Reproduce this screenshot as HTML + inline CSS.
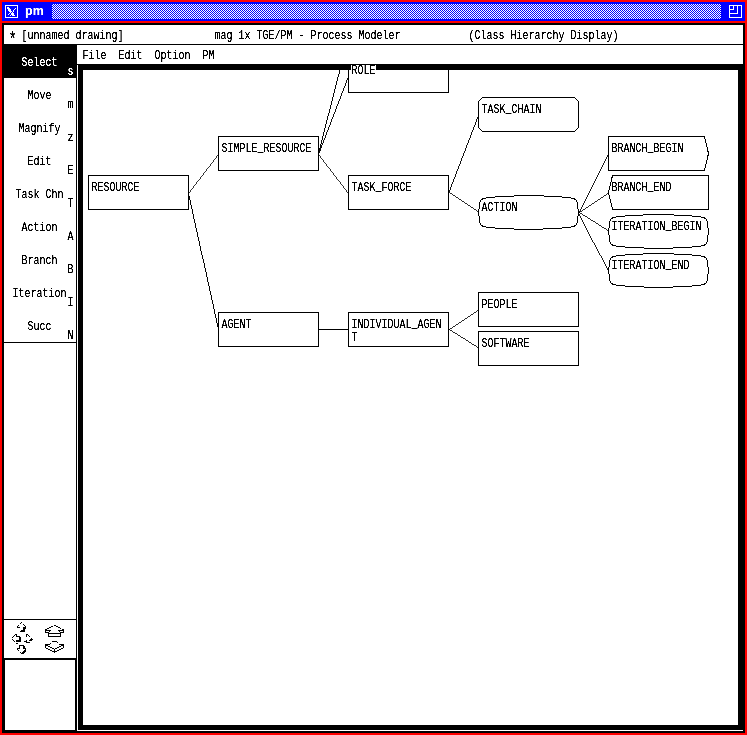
<!DOCTYPE html>
<html lang="en">
<head>
<meta charset="utf-8">
<title>pm</title>
<style>
html,body{margin:0;padding:0}
body{width:747px;height:735px;background:#ff0000;position:relative;overflow:hidden;font-family:"Liberation Mono", monospace}
div,span{position:absolute;box-sizing:border-box}
#tb{left:2px;top:2px;width:743px;height:19px;background:#0000ff}
#stip{left:50px;top:2px;width:669px;height:15px;background:repeating-conic-gradient(#ffffff 0 25%,#0000ff 0 50%) 0 0/2px 2px}
#xb{left:3px;top:3px;width:13px;height:13px;border:1px solid #fff}
#rb{left:727px;top:3px;width:13px;height:13px;border:1px solid #fff}
#rb i{position:absolute;left:-1px;top:-1px;border:1px solid #fff;box-sizing:border-box}
#pm{left:25px;top:4px;font:bold 12.5px/14px "Liberation Sans",sans-serif;color:#fff;white-space:pre}
#win{left:2px;top:23px;width:743px;height:710px;background:#000}
#title{left:2px;top:2px;width:739px;height:19px;background:#fff}
#sel{left:2px;top:21px;width:73px;height:34px;background:#000}
#lp{left:2px;top:55px;width:72px;height:652px;background:#fff}
#menu{left:75px;top:22px;width:666px;height:19px;background:#fff}
#vl{left:75px;top:42px;width:1px;height:666px;background:#fff}
#hl{left:75px;top:707px;width:666px;height:1px;background:#fff}
#cv{left:81px;top:47px;width:655px;height:655px;background:#fff}
.ln{left:2px;width:72px;height:1px;background:#000}
.t{-webkit-text-stroke:0.15px currentColor;font-size:13.6px;line-height:13px;height:13px;white-space:pre;transform-origin:0 0;transform:translateX(0.5px) scaleX(0.7352);color:#000}
.t i{font-style:normal;position:relative;top:-1px}
svg{position:absolute;left:0;top:0}
#txt{left:0;top:0;width:747px;height:735px;filter:url(#tf)}
#ttl{left:0;top:0;width:60px;height:22px;filter:url(#tg)}
</style>
</head>
<body>
<div id="tb">
  <div id="stip"></div>
  <div id="xb"></div>
  <div id="rb"><i style="width:5px;height:5px"></i><i style="width:9px;height:9px"></i></div>
</div>
<div id="win">
  <div id="title"></div>
  <div id="sel"></div>
  <div id="lp"></div>
  <div id="menu"></div>
  <div id="vl"></div>
  <div id="hl"></div>
  <div id="cv"></div>
  <div class="ln" style="top:319px"></div>
  <div class="ln" style="top:596px"></div>
  <div class="ln" style="top:635px;height:2px"></div>
  <div class="ln" style="top:637px;width:1px;height:71px"></div>
  <div class="ln" style="top:637px;left:73px;width:1px;height:71px"></div>
</div>
<svg width="747" height="735" viewBox="0 0 747 735" shape-rendering="crispEdges">
<defs><filter id="tf" x="0" y="0" width="100%" height="100%" color-interpolation-filters="sRGB"><feComponentTransfer><feFuncA type="linear" slope="3" intercept="-0.9"/></feComponentTransfer></filter><filter id="tg" x="0" y="0" width="100%" height="100%" color-interpolation-filters="sRGB"><feComponentTransfer><feFuncA type="linear" slope="1.6" intercept="-0.2"/></feComponentTransfer></filter><clipPath id="cc"><rect x="83" y="70" width="655" height="655"/></clipPath></defs>
<g clip-path="url(#cc)" fill="none" stroke="#000" stroke-width="1">
<rect x="88.5" y="175.5" width="100" height="34"/>
<rect x="218.5" y="136.5" width="100" height="34"/>
<rect x="348.5" y="58.5" width="100" height="34"/>
<rect x="348.5" y="175.5" width="100" height="34"/>
<polygon points="482.5,97.5 574.5,97.5 578.5,101.5 578.5,127.5 574.5,131.5 482.5,131.5 478.5,127.5 478.5,101.5"/>
<path d="M478.50,212.50 C479.00,209.10 479.50,205.50 480.00,202.25 C480.40,200.50 481.00,199.50 482.70,198.80 C488.00,196.50 513.50,196.00 528.50,195.50 C543.50,196.00 569.00,196.50 574.30,198.80 C576.00,199.50 576.60,200.50 577.00,202.25 C577.50,205.50 578.00,209.10 578.50,212.50 C578.00,215.90 577.50,219.50 577.00,222.75 C576.60,224.50 576.00,225.50 574.30,226.20 C569.00,228.50 543.50,229.00 528.50,229.50 C513.50,229.00 488.00,228.50 482.70,226.20 C481.00,225.50 480.40,224.50 480.00,222.75 C479.50,219.50 479.00,215.90 478.50,212.50 Z"/>
<polygon points="608.5,136.5 704.5,136.5 708.5,153.5 704.5,170.5 608.5,170.5"/>
<polygon points="612.5,175.5 708.5,175.5 708.5,209.5 612.5,209.5 608.5,192.5"/>
<path d="M608.50,231.50 C609.00,228.10 609.50,224.50 610.00,221.25 C610.40,219.50 611.00,218.50 612.70,217.80 C618.00,215.50 643.50,215.00 658.50,214.50 C673.50,215.00 699.00,215.50 704.30,217.80 C706.00,218.50 706.60,219.50 707.00,221.25 C707.50,224.50 708.00,228.10 708.50,231.50 C708.00,234.90 707.50,238.50 707.00,241.75 C706.60,243.50 706.00,244.50 704.30,245.20 C699.00,247.50 673.50,248.00 658.50,248.50 C643.50,248.00 618.00,247.50 612.70,245.20 C611.00,244.50 610.40,243.50 610.00,241.75 C609.50,238.50 609.00,234.90 608.50,231.50 Z"/>
<path d="M608.50,270.50 C609.00,267.10 609.50,263.50 610.00,260.25 C610.40,258.50 611.00,257.50 612.70,256.80 C618.00,254.50 643.50,254.00 658.50,253.50 C673.50,254.00 699.00,254.50 704.30,256.80 C706.00,257.50 706.60,258.50 707.00,260.25 C707.50,263.50 708.00,267.10 708.50,270.50 C708.00,273.90 707.50,277.50 707.00,280.75 C706.60,282.50 706.00,283.50 704.30,284.20 C699.00,286.50 673.50,287.00 658.50,287.50 C643.50,287.00 618.00,286.50 612.70,284.20 C611.00,283.50 610.40,282.50 610.00,280.75 C609.50,277.50 609.00,273.90 608.50,270.50 Z"/>
<rect x="218.5" y="312.5" width="100" height="34"/>
<rect x="348.5" y="312.5" width="100" height="34"/>
<rect x="478.5" y="292.5" width="100" height="34"/>
<rect x="478.5" y="331.5" width="100" height="34"/>
<line x1="188.5" y1="192.5" x2="218.5" y2="153.5" stroke-width="0.793"/>
<line x1="188.5" y1="192.5" x2="218.5" y2="329.5" stroke-width="0.977"/>
<line x1="318.5" y1="153.5" x2="348.5" y2="75.5" stroke-width="0.933"/>
<line x1="318.5" y1="153.5" x2="348.5" y2="192.5" stroke-width="0.793"/>
<line x1="448.5" y1="192.5" x2="478.5" y2="114.5" stroke-width="0.933"/>
<line x1="448.5" y1="192.5" x2="478.5" y2="212.5" stroke-width="0.832"/>
<line x1="578.5" y1="212.5" x2="608.5" y2="153.5" stroke-width="0.891"/>
<line x1="578.5" y1="212.5" x2="608.5" y2="192.5" stroke-width="0.832"/>
<line x1="578.5" y1="212.5" x2="608.5" y2="231.5" stroke-width="0.845"/>
<line x1="578.5" y1="212.5" x2="608.5" y2="270.5" stroke-width="0.888"/>
<line x1="318.5" y1="329.5" x2="348.5" y2="329.5"/>
<line x1="448.5" y1="329.5" x2="478.5" y2="309.5" stroke-width="0.832"/>
<line x1="448.5" y1="329.5" x2="478.5" y2="348.5" stroke-width="0.845"/>
<line x1="318.5" y1="153.5" x2="348.5" y2="36.5" stroke-width="0.969"/>
</g>
<rect x="351" y="65" width="25" height="5" fill="#fff"/>
<path fill="#000" stroke="none" d="M21,622h1v1h-1zM20,623h1v1h-1zM23,624h1v1h-1zM18,625h1v1h-1zM24,625h1v1h-1zM17,626h1v1h-1zM25,626h1v1h-1zM17,627h3v1h-3zM23,627h3v1h-3zM23,628h3v1h-3zM23,629h2v1h-2zM21,630h4v1h-4zM20,631h5v1h-5zM15,634h2v1h-2zM26,634h2v1h-2zM14,635h1v1h-1zM16,635h1v1h-1zM26,635h1v1h-1zM28,635h1v1h-1zM13,636h1v1h-1zM16,636h4v1h-4zM26,636h1v1h-1zM29,636h1v1h-1zM12,637h1v1h-1zM19,637h2v1h-2zM19,638h2v1h-2zM31,638h1v1h-1zM12,639h1v1h-1zM19,639h2v1h-2zM30,639h3v1h-3zM13,640h1v1h-1zM16,640h5v1h-5zM26,640h1v1h-1zM29,640h3v1h-3zM14,641h1v1h-1zM16,641h5v1h-5zM24,641h3v1h-3zM26,642h4v1h-4zM16,643h2v1h-2zM19,645h5v1h-5zM19,646h1v1h-1zM23,646h2v1h-2zM19,647h1v1h-1zM23,647h2v1h-2zM17,648h3v1h-3zM23,648h3v1h-3zM17,649h1v1h-1zM25,649h1v1h-1zM18,650h1v1h-1zM24,650h2v1h-2zM23,651h3v1h-3zM20,652h1v1h-1zM22,652h3v1h-3zM21,653h3v1h-3zM54,625h2v1h-2zM51,626h2v1h-2zM56,626h2v1h-2zM49,627h2v1h-2zM58,627h2v1h-2zM47,628h2v1h-2zM60,628h1v1h-1zM45,629h2v1h-2zM62,629h2v1h-2zM45,630h6v1h-6zM58,630h6v1h-6zM45,631h1v1h-1zM49,631h1v1h-1zM59,631h1v1h-1zM63,631h1v1h-1zM45,632h4v1h-4zM60,632h4v1h-4zM48,633h13v1h-13zM48,634h1v1h-1zM60,634h1v1h-1zM48,635h1v1h-1zM60,635h1v1h-1zM48,636h13v1h-13zM52,641h5v1h-5zM57,642h1v1h-1zM50,643h1v1h-1zM45,644h5v1h-5zM59,644h5v1h-5zM45,645h3v1h-3zM61,645h3v1h-3zM45,646h1v1h-1zM48,646h2v1h-2zM59,646h2v1h-2zM63,646h1v1h-1zM45,647h1v1h-1zM50,647h2v1h-2zM57,647h2v1h-2zM63,647h1v1h-1zM46,648h2v1h-2zM52,648h2v1h-2zM55,648h2v1h-2zM61,648h2v1h-2zM48,649h2v1h-2zM54,649h1v1h-1zM59,649h2v1h-2zM50,650h2v1h-2zM54,650h1v1h-1zM57,650h2v1h-2zM52,651h5v1h-5zM54,652h1v1h-1z"/>
<path fill="#fff" stroke="none" d="M7,7h2v1h-2zM7,8h3v1h-3zM15,8h1v1h-1zM8,9h3v1h-3zM14,9h1v1h-1zM8,10h3v1h-3zM13,10h1v1h-1zM9,11h3v1h-3zM13,11h1v1h-1zM10,12h1v1h-1zM12,12h1v1h-1zM9,13h1v1h-1zM11,13h3v1h-3zM8,14h1v1h-1zM11,14h3v1h-3zM10,15h1v1h-1zM12,15h3v1h-3z"/>
</svg>
<div id="ttl"><span id="pm">pm</span></div>
<div id="txt">
<span class="t" style="left:8px;top:34px;font-size:20px;transform:translateX(0.5px) scaleX(0.7000)">* </span>
<span class="t" style="left:21px;top:29px;font-size:12.8px;transform:translateX(0.5px) scaleX(0.7811)">[unnamed drawing]</span>
<span class="t" style="left:214px;top:29px;font-size:12.8px;transform:translateX(0.5px) scaleX(0.7811)">mag 1x TGE/PM - Process Modeler</span>
<span class="t" style="left:468px;top:29px;font-size:12.8px;transform:translateX(0.5px) scaleX(0.7811)">(Class Hierarchy Display)</span>
<span class="t" style="left:82px;top:49px;font-size:12.8px;transform:translateX(0.5px) scaleX(0.7811)">File</span>
<span class="t" style="left:118px;top:49px;font-size:12.8px;transform:translateX(0.5px) scaleX(0.7811)">Edit</span>
<span class="t" style="left:154px;top:49px;font-size:12.8px;transform:translateX(0.5px) scaleX(0.7811)">Option</span>
<span class="t" style="left:202px;top:49px;font-size:12.8px;transform:translateX(0.5px) scaleX(0.7811)">PM</span>
<span class="t" style="left:21px;top:56px;font-size:12.8px;transform:translateX(0.5px) scaleX(0.7811);color:#fff">Select</span>
<span class="t" style="left:67px;top:65px;font-size:12.8px;transform:translateX(0.5px) scaleX(0.7811);color:#fff">s</span>
<span class="t" style="left:27px;top:89px;font-size:12.8px;transform:translateX(0.5px) scaleX(0.7811)">Move</span>
<span class="t" style="left:67px;top:98px;font-size:12.8px;transform:translateX(0.5px) scaleX(0.7811)">m</span>
<span class="t" style="left:18px;top:122px;font-size:12.8px;transform:translateX(0.5px) scaleX(0.7811)">Magnify</span>
<span class="t" style="left:67px;top:131px;font-size:12.8px;transform:translateX(0.5px) scaleX(0.7811)">z</span>
<span class="t" style="left:27px;top:155px;font-size:12.8px;transform:translateX(0.5px) scaleX(0.7811)">Edit</span>
<span class="t" style="left:67px;top:164px">E</span>
<span class="t" style="left:15px;top:188px;font-size:12.8px;transform:translateX(0.5px) scaleX(0.7811)">Task Chn</span>
<span class="t" style="left:67px;top:197px">T</span>
<span class="t" style="left:21px;top:221px;font-size:12.8px;transform:translateX(0.5px) scaleX(0.7811)">Action</span>
<span class="t" style="left:67px;top:230px">A</span>
<span class="t" style="left:21px;top:254px;font-size:12.8px;transform:translateX(0.5px) scaleX(0.7811)">Branch</span>
<span class="t" style="left:67px;top:263px">B</span>
<span class="t" style="left:12px;top:287px;font-size:12.8px;transform:translateX(0.5px) scaleX(0.7811)">Iteration</span>
<span class="t" style="left:67px;top:296px">I</span>
<span class="t" style="left:27px;top:320px;font-size:12.8px;transform:translateX(0.5px) scaleX(0.7811)">Succ</span>
<span class="t" style="left:67px;top:329px">N</span>
<span class="t" style="left:91px;top:181px">RESOURCE</span>
<span class="t" style="left:221px;top:142px">SIMPLE<i>_</i>RESOURCE</span>
<span class="t" style="left:351px;top:64px">ROLE</span>
<span class="t" style="left:351px;top:181px">TASK<i>_</i>FORCE</span>
<span class="t" style="left:481px;top:103px">TASK<i>_</i>CHAIN</span>
<span class="t" style="left:481px;top:201px">ACTION</span>
<span class="t" style="left:611px;top:142px">BRANCH<i>_</i>BEGIN</span>
<span class="t" style="left:611px;top:181px">BRANCH<i>_</i>END</span>
<span class="t" style="left:611px;top:220px">ITERATION<i>_</i>BEGIN</span>
<span class="t" style="left:611px;top:259px">ITERATION<i>_</i>END</span>
<span class="t" style="left:221px;top:318px">AGENT</span>
<span class="t" style="left:351px;top:318px">INDIVIDUAL<i>_</i>AGEN</span>
<span class="t" style="left:351px;top:331px">T</span>
<span class="t" style="left:481px;top:298px">PEOPLE</span>
<span class="t" style="left:481px;top:337px">SOFTWARE</span>
</div>
</body>
</html>
